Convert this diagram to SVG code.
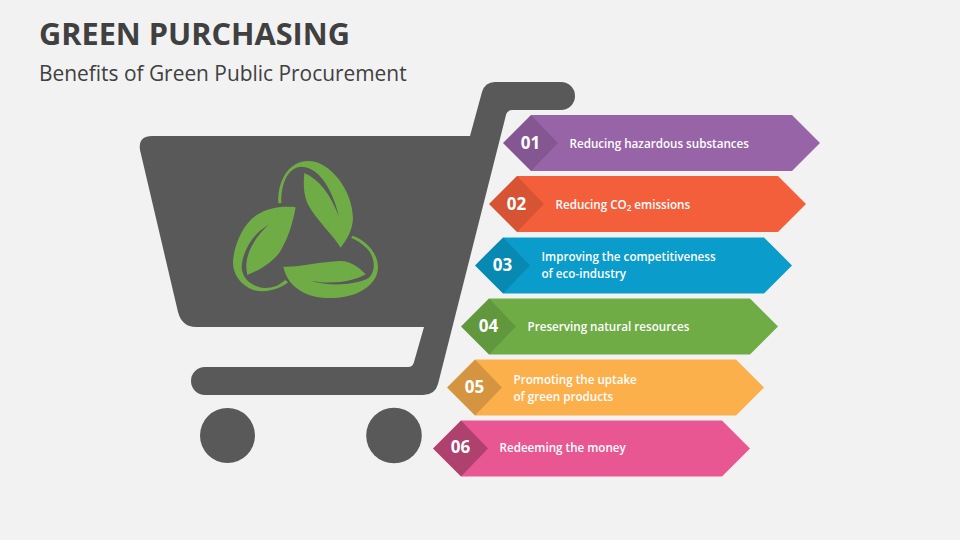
<svg xmlns="http://www.w3.org/2000/svg" width="960" height="540" viewBox="0 0 960 540">
<style>
.t{font-family:"Open Sans","Liberation Sans",sans-serif;fill:#404040}
.l{font-family:"Open Sans","Liberation Sans",sans-serif;font-size:11.650px;font-weight:600;fill:#fff}
.n{font-family:"Open Sans","Liberation Sans",sans-serif;font-size:17px;font-weight:700;fill:#fff;text-anchor:middle}
.d{fill:#000;fill-opacity:.12}
.c{fill:#595959}
.g{fill:#6fac46}
</style>
<defs>
<path id="rb" d="M0 0L28-28H289L317 0L289 28H28Z"/>
<path id="dm" d="M0 0L28-28L55 0L28 28Z"/>
</defs>
<rect width="960" height="540" fill="#f2f2f2"/>
<text class="t" x="39" y="45" font-size="30.700" font-weight="700">GREEN PURCHASING</text>
<text class="t" x="39" y="81" font-size="20.900">Benefits of Green Public Procurement</text>
<g id="cart">
<path class="c" d="M152 136H470L482 92Q485 82 495 82H561A14 14 0 0 1 561 110H513Q507 110 506 115L438 384Q435 395 423 395H205A14 14 0 0 1 205 367H408Q413 367 414 362L424 327H196Q182 327 178 312L140 150Q138 136 152 136Z"/>
<circle class="c" cx="227.500" cy="435.500" r="27.500"/>
<circle class="c" cx="394" cy="435.500" r="27.800"/>
</g>
<g id="recycle-leaves" transform="translate(220 150) scale(.33333)">
<path class="g" d="M175 160C172 100 200 34 265 33C330 33 398 120 399 205C398 240 380 270 362 293C335 250 285 205 265 165C250 135 250 100 253 69C298 88 332 135 356 198C340 125 300 52 245 50C205 50 182 100 184 160Z"/>
<path class="g" d="M205 397C175 420 135 430 100 420C60 405 38 370 39 335C42 280 75 210 120 190C150 172 195 168 227 172C218 220 205 265 180 305C155 340 115 362 82 375C72 335 85 280 145 225C100 250 65 305 65 355C70 395 105 412 135 414C160 414 180 405 195 390Z"/>
<path class="g" d="M190 350C240 352 300 335 360 333C395 333 420 355 437 373C400 395 335 405 272 392C330 410 400 406 445 385C470 365 465 320 440 295C425 280 410 270 394 264L398 257C440 272 475 310 474 355C472 405 410 444 340 444C270 446 205 420 190 350Z"/>
</g>
<g id="item-01" transform="translate(503 143)">
<use href="#rb" fill="#9764a8"/><use href="#dm" class="d"/>
<text class="n" x="27.500" y="5.500">01</text>
<text class="l" x="66.500" y="4.500">Reducing hazardous substances</text>
</g>
<g id="item-02" transform="translate(489 204)">
<use href="#rb" fill="#f45f3b"/><use href="#dm" class="d"/>
<text class="n" x="27.500" y="5.500">02</text>
<text class="l" x="66.500" y="4.500">Reducing CO<tspan font-size="8" dy="2.500">2</tspan><tspan dy="-2.500"> emissions</tspan></text>
</g>
<g id="item-03" transform="translate(475 265.400)">
<use href="#rb" fill="#0a9ccb"/><use href="#dm" class="d"/>
<text class="n" x="27.500" y="5.500">03</text>
<text class="l" x="66.500" y="-4.500">Improving the competitiveness</text>
<text class="l" x="66.500" y="12.500">of eco-industry</text>
</g>
<g id="item-04" transform="translate(461 326.500)">
<use href="#rb" fill="#6fac46"/><use href="#dm" class="d"/>
<text class="n" x="27.500" y="5.500">04</text>
<text class="l" x="66.500" y="4">Preserving natural resources</text>
</g>
<g id="item-05" transform="translate(447 387.500)">
<use href="#rb" fill="#fbb04c"/><use href="#dm" class="d" style="fill-opacity:.15"/>
<text class="n" x="27.500" y="5.500">05</text>
<text class="l" x="66.500" y="-4">Promoting the uptake</text>
<text class="l" x="66.500" y="13">of green products</text>
</g>
<g id="item-06" transform="translate(433 448.500)">
<use href="#rb" fill="#e95793"/><use href="#dm" class="d" style="fill-opacity:.25"/>
<text class="n" x="27.500" y="4.500">06</text>
<text class="l" x="66.500" y="3.500">Redeeming the money</text>
</g>
</svg>
